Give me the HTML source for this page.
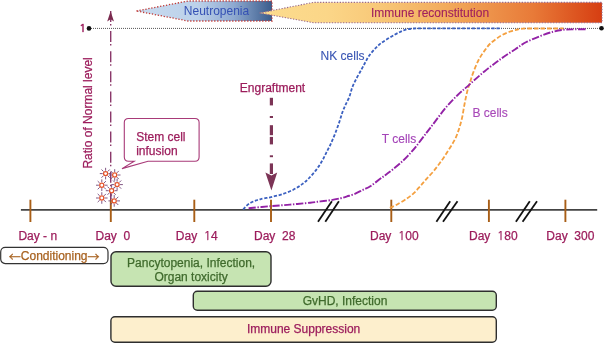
<!DOCTYPE html>
<html><head><meta charset="utf-8"><style>
html,body{margin:0;padding:0;background:#fff;}
svg{display:block;}
text{font-family:"Liberation Sans",Arial,sans-serif;font-size:12px;}
text:not([stroke-width]){stroke-width:0.25px;}
</style></head><body>
<svg width="605" height="343" viewBox="0 0 605 343">
<defs>
<linearGradient id="gb" x1="136" y1="0" x2="272" y2="0" gradientUnits="userSpaceOnUse">
<stop offset="0" stop-color="#c8dbef"/><stop offset="0.45" stop-color="#bcd1ea"/><stop offset="0.72" stop-color="#8ea9d0"/><stop offset="1" stop-color="#3a5c8c"/>
</linearGradient>
<linearGradient id="go" x1="259" y1="0" x2="602" y2="0" gradientUnits="userSpaceOnUse">
<stop offset="0" stop-color="#fcdc8e"/><stop offset="0.2" stop-color="#fbd688"/><stop offset="0.35" stop-color="#f8c878"/><stop offset="0.55" stop-color="#f2aa5c"/><stop offset="0.8" stop-color="#e87a38"/><stop offset="1" stop-color="#d63e12"/>
</linearGradient>
</defs>
<!-- top arrows -->
<polygon points="136.5,11 188,1 272,1 272,21 188,21" fill="url(#gb)" stroke="#c03a36" stroke-width="1.3" stroke-dasharray="1.3 1.7"/>
<polygon points="259.5,13 313.5,2.4 602,2.4 602,22.8 313.5,22.8" fill="url(#go)" stroke="#9a6a8a" stroke-width="1.1" stroke-dasharray="1.3 1.5"/>
<text x="183.8" y="14.6" fill="#3450b4">Neutropenia</text>
<text x="371" y="16.7" fill="#a0205e" stroke="#a0205e" stroke-width="0.1">Immune reconstitution</text>
<!-- top dotted ref line -->
<line x1="89" y1="28.4" x2="601.5" y2="28.4" stroke="#555" stroke-width="1" stroke-dasharray="1 1"/>
<circle cx="89" cy="28.4" r="2.3" fill="#111"/>
<circle cx="601.5" cy="28.2" r="2.3" fill="#111"/>
<text x="79.2" y="32.2" fill="#9c1d5c" stroke="#9c1d5c" stroke-width="0.5" style="font-size:11.2px"><tspan font-family="NanumGothic">1</tspan></text>
<!-- y axis label -->
<text transform="translate(92.4,168.6) rotate(-90)" fill="#9c1d5c" stroke="#9c1d5c">Ratio of Normal level</text>
<!-- day0 vertical dash-dot -->
<line x1="110.7" y1="11" x2="110.7" y2="200" stroke="#8a386a" stroke-width="1.4" stroke-dasharray="11 2 1.5 5.6"/>
<polygon points="110.6,11.2 114,21.6 110.6,19.2 107.2,21.6" fill="#7a2a4e"/>
<!-- axis -->
<line x1="20.9" y1="209.9" x2="597.2" y2="209.9" stroke="#444" stroke-width="1.6"/>
<g stroke="#a85e16" stroke-width="1.9"><line x1="30.4" y1="199.7" x2="30.4" y2="222"/><line x1="110.8" y1="199.7" x2="110.8" y2="222"/><line x1="194.3" y1="199.7" x2="194.3" y2="222"/><line x1="271.0" y1="199.7" x2="271.0" y2="222"/><line x1="391.3" y1="199.7" x2="391.3" y2="222"/><line x1="488.9" y1="199.7" x2="488.9" y2="222"/><line x1="565.4" y1="199.7" x2="565.4" y2="222"/></g>
<g stroke="#111" stroke-width="1.8"><line x1="318.0" y1="221.8" x2="331.9" y2="201.3"/><line x1="325.3" y1="221.8" x2="338.9" y2="201.3"/><line x1="436.4" y1="221.8" x2="450.2" y2="201.3"/><line x1="443.0" y1="221.8" x2="457.5" y2="201.3"/><line x1="515.9" y1="221.8" x2="529.8" y2="201.3"/><line x1="522.6" y1="221.8" x2="537.0" y2="201.3"/></g>
<!-- curves -->
<path d="M243.2,209.5 C243.8,208.8 245.4,206.8 246.7,205.6 C248.0,204.4 249.6,203.3 251.1,202.5 C252.6,201.7 254.0,201.2 255.5,200.7 C257.0,200.2 258.4,199.8 259.9,199.4 C261.3,199.0 262.3,198.7 264.2,198.3 C266.1,197.9 268.3,197.8 271.2,197.1 C274.1,196.4 278.0,195.6 281.7,194.4 C285.4,193.2 289.8,191.4 293.3,189.7 C296.8,187.9 299.9,185.9 302.6,183.9 C305.3,181.9 307.3,179.9 309.6,177.5 C311.9,175.1 314.3,172.4 316.4,169.6 C318.5,166.8 320.5,163.7 322.2,160.8 C323.9,157.9 325.1,155.0 326.6,152.1 C328.1,149.2 329.6,146.5 331.0,143.3 C332.4,140.1 333.9,136.7 335.3,133.1 C336.7,129.5 338.3,125.0 339.5,121.5 C340.7,118.0 341.5,114.8 342.5,112.0 C343.5,109.2 344.4,107.5 345.5,104.9 C346.6,102.4 348.2,99.7 349.4,96.7 C350.5,93.7 351.2,90.0 352.4,87.0 C353.6,84.0 355.0,81.4 356.5,78.4 C358.0,75.4 360.2,71.9 361.6,69.2 C363.1,66.5 363.9,64.8 365.2,62.5 C366.5,60.2 367.6,57.8 369.3,55.5 C371.0,53.2 373.2,50.5 375.2,48.5 C377.1,46.5 378.9,44.9 381.0,43.2 C383.1,41.6 385.7,40.1 388.0,38.6 C390.3,37.1 392.9,35.7 395.0,34.5 C397.1,33.3 398.9,32.5 400.8,31.6 C402.7,30.8 404.4,29.9 406.6,29.4 C408.8,28.9 411.6,28.7 414.0,28.5 C416.4,28.3 418.3,28.4 421.0,28.4 C423.7,28.4 426.0,28.4 430.0,28.4 C434.0,28.4 439.2,28.4 445.0,28.4 C450.8,28.4 458.3,28.4 465.0,28.4 C471.7,28.4 478.9,28.4 485.0,28.4 C491.1,28.4 498.9,28.4 501.7,28.4" fill="none" stroke="#3b60c0" stroke-width="1.8" stroke-dasharray="3.2 1.7"/>
<path d="M389.9,207.9 C390.9,207.4 393.0,206.7 395.8,205.2 C398.6,203.7 403.6,200.8 406.6,198.7 C409.7,196.6 411.8,195.0 414.1,192.8 C416.4,190.7 418.6,188.0 420.6,185.8 C422.6,183.6 423.9,181.9 426.1,179.4 C428.3,176.9 431.4,173.9 434.0,170.7 C436.6,167.5 439.4,163.7 441.9,160.2 C444.4,156.7 446.6,153.2 448.8,149.7 C451.0,146.2 453.3,142.5 455.0,139.2 C456.7,135.8 457.6,133.1 458.8,129.6 C460.0,126.1 461.0,122.3 462.0,118.0 C463.0,113.7 463.7,108.1 464.6,103.7 C465.5,99.3 466.3,95.0 467.2,91.5 C468.1,88.0 468.9,85.9 469.9,82.7 C470.9,79.5 471.9,76.0 473.4,72.2 C474.8,68.4 476.8,63.5 478.6,60.0 C480.4,56.5 482.0,54.2 484.0,51.5 C486.0,48.8 487.6,46.1 490.4,43.5 C493.2,40.9 497.5,37.8 500.9,35.8 C504.2,33.8 507.8,32.4 510.5,31.4 C513.2,30.3 515.2,30.0 517.3,29.5 C519.4,29.0 520.9,28.8 523.0,28.6 C525.1,28.4 527.2,28.5 530.0,28.5 C532.8,28.5 536.3,28.5 540.0,28.5 C543.7,28.5 548.1,28.5 552.0,28.5 C555.9,28.5 561.7,28.5 563.6,28.5" fill="none" stroke="#f4a040" stroke-width="1.8" stroke-dasharray="4.5 2"/>
<path d="M248.6,208.2 C252.2,207.9 263.1,206.8 270.0,206.2 C276.9,205.6 283.3,205.2 290.0,204.6 C296.7,204.0 305.1,203.2 310.2,202.7 C315.3,202.2 317.0,201.8 320.4,201.4 C323.8,201.0 327.2,200.7 330.6,200.2 C334.0,199.7 338.1,198.8 340.8,198.2 C343.5,197.6 344.8,197.1 347.0,196.4 C349.2,195.7 351.3,195.3 354.0,194.2 C356.7,193.1 360.6,191.0 363.3,189.7 C366.0,188.4 367.7,187.9 370.3,186.2 C372.9,184.5 376.6,181.6 379.2,179.6 C381.8,177.6 383.9,176.2 386.2,174.4 C388.5,172.7 390.7,171.1 393.2,169.1 C395.7,167.1 398.8,164.6 401.3,162.3 C403.8,160.0 405.8,158.0 408.3,155.3 C410.8,152.6 413.6,149.6 416.5,145.9 C419.4,142.2 423.4,136.8 426.0,133.4 C428.6,130.0 429.1,129.4 432.4,125.2 C435.6,121.0 441.3,113.0 445.5,108.0 C449.7,103.0 453.7,98.9 457.7,95.0 C461.7,91.1 464.9,88.6 469.4,84.6 C473.9,80.6 479.4,75.5 484.7,71.2 C490.0,66.9 495.9,62.5 501.0,58.8 C506.1,55.1 511.1,52.0 515.3,49.2 C519.5,46.4 522.1,44.2 526.4,42.0 C530.7,39.8 536.4,37.5 540.9,35.8 C545.4,34.1 549.7,32.6 553.6,31.6 C557.5,30.6 560.9,30.0 564.5,29.6 C568.1,29.2 571.2,29.4 575.0,29.3 C578.8,29.2 585.0,29.3 587.0,29.3" fill="none" stroke="#9322a6" stroke-width="1.9" stroke-dasharray="7.3 1.6 1.4 1.6"/>
<!-- engraftment arrow -->
<g stroke="#7c3456" stroke-width="3.2">
<line x1="271.4" y1="97.8" x2="271.4" y2="105.4"/>
<line x1="271.4" y1="116" x2="271.4" y2="118"/>
<line x1="271.4" y1="125.2" x2="271.4" y2="135.2"/>
<line x1="271.4" y1="136.9" x2="271.4" y2="144.4"/>
<line x1="271.4" y1="155.3" x2="271.4" y2="157.2"/>
<line x1="271.4" y1="163.4" x2="271.4" y2="174"/>
</g>
<polygon points="265.4,172.4 271.4,175.5 277.2,172.4 271.4,190.5" fill="#7c3456"/>
<text x="239.8" y="91.9" fill="#9c1d5c" stroke="#9c1d5c">Engraftment</text>
<!-- curve labels -->
<text x="320.6" y="59.7" fill="#3a56b4" stroke="#3a56b4" stroke-width="0.12">NK cells</text>
<text x="381.8" y="142.9" fill="#a444b8" stroke="#a444b8" stroke-width="0.12">T cells</text>
<text x="472.4" y="116.6" fill="#a848b8" stroke="#a848b8" stroke-width="0.12">B cells</text>
<!-- stem cell callout -->
<path d="M128.5,118.5 H195 Q199.1,118.5 199.1,122.6 V157 Q199.1,161.2 195,161.2 H148 L122,168.6 L134.2,161.2 H128.5 Q124.3,161.2 124.3,157 V122.6 Q124.3,118.5 128.5,118.5 Z" fill="#fff" stroke="#a83a78" stroke-width="1.1"/>
<text x="136.2" y="140.6" fill="#9c1d5c" stroke="#9c1d5c">Stem cell</text>
<text x="136.2" y="154.8" fill="#9c1d5c" stroke="#9c1d5c">infusion</text>
<!-- stars -->
<g stroke="#744476" stroke-width="0.9"><line x1="108.50" y1="173.60" x2="111.40" y2="173.60"/><line x1="107.65" y1="175.65" x2="109.70" y2="177.70"/><line x1="105.60" y1="176.50" x2="105.60" y2="179.40"/><line x1="103.55" y1="175.65" x2="101.50" y2="177.70"/><line x1="102.70" y1="173.60" x2="99.80" y2="173.60"/><line x1="103.55" y1="171.55" x2="101.50" y2="169.50"/><line x1="105.60" y1="170.70" x2="105.60" y2="167.80"/><line x1="107.65" y1="171.55" x2="109.70" y2="169.50"/><line x1="117.60" y1="175.00" x2="120.50" y2="175.00"/><line x1="116.75" y1="177.05" x2="118.80" y2="179.10"/><line x1="114.70" y1="177.90" x2="114.70" y2="180.80"/><line x1="112.65" y1="177.05" x2="110.60" y2="179.10"/><line x1="111.80" y1="175.00" x2="108.90" y2="175.00"/><line x1="112.65" y1="172.95" x2="110.60" y2="170.90"/><line x1="114.70" y1="172.10" x2="114.70" y2="169.20"/><line x1="116.75" y1="172.95" x2="118.80" y2="170.90"/><line x1="104.70" y1="185.20" x2="107.60" y2="185.20"/><line x1="103.85" y1="187.25" x2="105.90" y2="189.30"/><line x1="101.80" y1="188.10" x2="101.80" y2="191.00"/><line x1="99.75" y1="187.25" x2="97.70" y2="189.30"/><line x1="98.90" y1="185.20" x2="96.00" y2="185.20"/><line x1="99.75" y1="183.15" x2="97.70" y2="181.10"/><line x1="101.80" y1="182.30" x2="101.80" y2="179.40"/><line x1="103.85" y1="183.15" x2="105.90" y2="181.10"/><line x1="120.00" y1="184.60" x2="122.90" y2="184.60"/><line x1="119.15" y1="186.65" x2="121.20" y2="188.70"/><line x1="117.10" y1="187.50" x2="117.10" y2="190.40"/><line x1="115.05" y1="186.65" x2="113.00" y2="188.70"/><line x1="114.20" y1="184.60" x2="111.30" y2="184.60"/><line x1="115.05" y1="182.55" x2="113.00" y2="180.50"/><line x1="117.10" y1="181.70" x2="117.10" y2="178.80"/><line x1="119.15" y1="182.55" x2="121.20" y2="180.50"/><line x1="114.50" y1="190.70" x2="117.40" y2="190.70"/><line x1="113.65" y1="192.75" x2="115.70" y2="194.80"/><line x1="111.60" y1="193.60" x2="111.60" y2="196.50"/><line x1="109.55" y1="192.75" x2="107.50" y2="194.80"/><line x1="108.70" y1="190.70" x2="105.80" y2="190.70"/><line x1="109.55" y1="188.65" x2="107.50" y2="186.60"/><line x1="111.60" y1="187.80" x2="111.60" y2="184.90"/><line x1="113.65" y1="188.65" x2="115.70" y2="186.60"/><line x1="104.70" y1="198.00" x2="107.60" y2="198.00"/><line x1="103.85" y1="200.05" x2="105.90" y2="202.10"/><line x1="101.80" y1="200.90" x2="101.80" y2="203.80"/><line x1="99.75" y1="200.05" x2="97.70" y2="202.10"/><line x1="98.90" y1="198.00" x2="96.00" y2="198.00"/><line x1="99.75" y1="195.95" x2="97.70" y2="193.90"/><line x1="101.80" y1="195.10" x2="101.80" y2="192.20"/><line x1="103.85" y1="195.95" x2="105.90" y2="193.90"/><line x1="117.10" y1="200.90" x2="120.00" y2="200.90"/><line x1="116.25" y1="202.95" x2="118.30" y2="205.00"/><line x1="114.20" y1="203.80" x2="114.20" y2="206.70"/><line x1="112.15" y1="202.95" x2="110.10" y2="205.00"/><line x1="111.30" y1="200.90" x2="108.40" y2="200.90"/><line x1="112.15" y1="198.85" x2="110.10" y2="196.80"/><line x1="114.20" y1="198.00" x2="114.20" y2="195.10"/><line x1="116.25" y1="198.85" x2="118.30" y2="196.80"/></g>
<g fill="#fff" stroke="#e5532a" stroke-width="1.25"><circle cx="105.6" cy="173.6" r="2.05"/><circle cx="114.7" cy="175.0" r="2.05"/><circle cx="101.8" cy="185.2" r="2.05"/><circle cx="117.1" cy="184.6" r="2.05"/><circle cx="111.6" cy="190.7" r="2.05"/><circle cx="101.8" cy="198.0" r="2.05"/><circle cx="114.2" cy="200.9" r="2.05"/></g>
<!-- day labels -->
<g fill="#9c1d5c" stroke="#9c1d5c">
<text x="18.4" y="239.7">Day - n</text>
<text x="95.5" y="239.7" xml:space="preserve">Day  0</text>
<text x="175.8" y="239.7" xml:space="preserve">Day  <tspan font-family="NanumGothic">1</tspan>4</text>
<text x="254" y="239.7" xml:space="preserve">Day  28</text>
<text x="370" y="239.7" xml:space="preserve">Day  <tspan font-family="NanumGothic">1</tspan>00</text>
<text x="469" y="239.7" xml:space="preserve">Day  <tspan font-family="NanumGothic">1</tspan>80</text>
<text x="546.3" y="239.7" xml:space="preserve">Day  300</text>
</g>
<!-- bottom boxes -->
<rect x="0.7" y="247.4" width="107.3" height="16.2" rx="4.5" fill="#fff" stroke="#333" stroke-width="1.2"/>
<text x="8.8" y="259.7" fill="#a86220" stroke="#a86220"><tspan font-family="Noto Sans CJK JP" dy="2.4">←</tspan><tspan dy="-2.4">Conditioning</tspan><tspan font-family="Noto Sans CJK JP" dy="2.4">→</tspan></text>
<rect x="111" y="251.8" width="160" height="34.4" rx="5" fill="#c6e4b2" stroke="#2e2e2e" stroke-width="1.4"/>
<text x="191.1" y="266.8" text-anchor="middle" fill="#3f6a2c" stroke="#3f6a2c">Pancytopenia, Infection,</text>
<text x="191.1" y="281" text-anchor="middle" fill="#3f6a2c" stroke="#3f6a2c">Organ toxicity</text>
<rect x="193.3" y="291.2" width="303" height="19" rx="4" fill="#c6e4b2" stroke="#2e2e2e" stroke-width="1.4"/>
<text x="345" y="305" text-anchor="middle" fill="#3f6a2c" stroke="#3f6a2c">GvHD, Infection</text>
<rect x="110.9" y="316.7" width="385.4" height="25.5" rx="4" fill="#fdefcd" stroke="#2e2e2e" stroke-width="1.4"/>
<text x="303.6" y="333.1" text-anchor="middle" fill="#9c1d5c" stroke="#9c1d5c">Immune Suppression</text>
</svg>
</body></html>
